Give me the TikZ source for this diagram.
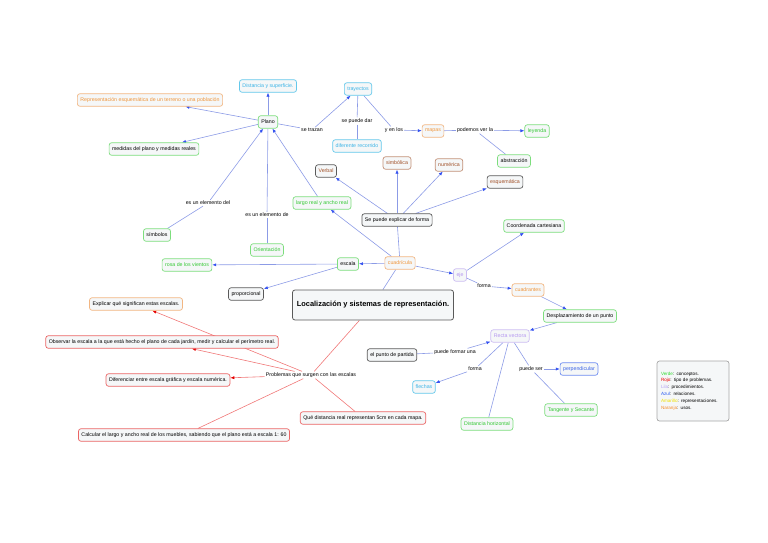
\documentclass[tikz,border=0pt]{standalone}
\usepackage{fontspec}
\setmainfont{Liberation Sans}
\usetikzlibrary{arrows.meta}
\pgfdeclarelayer{bg}
\pgfsetlayers{bg,main}
\definecolor{nfill}{RGB}{245,247,248}
\definecolor{cgreenB}{RGB}{125,222,125}
\definecolor{cgreenT}{RGB}{50,200,50}
\definecolor{ccyanB}{RGB}{100,200,235}
\definecolor{ccyanT}{RGB}{60,180,230}
\definecolor{corangeB}{RGB}{242,182,130}
\definecolor{corangeT}{RGB}{240,150,60}
\definecolor{credB}{RGB}{235,100,100}
\definecolor{cdarkB}{RGB}{90,90,90}
\definecolor{cbrownT}{RGB}{160,80,40}
\definecolor{cbrownB}{RGB}{195,145,120}
\definecolor{clavB}{RGB}{205,190,242}
\definecolor{clavT}{RGB}{180,150,240}
\definecolor{cblueB}{RGB}{110,140,240}
\definecolor{cblueT}{RGB}{60,100,230}
\definecolor{cedge}{RGB}{140,155,230}
\definecolor{carrow}{RGB}{50,80,240}
\definecolor{credge}{RGB}{240,120,120}
\definecolor{credarrow}{RGB}{230,0,0}
\definecolor{lgGreen}{RGB}{50,220,50}
\definecolor{lgRed}{RGB}{235,0,0}
\definecolor{lgLila}{RGB}{180,160,245}
\definecolor{lgBlue}{RGB}{40,90,240}
\definecolor{lgYellow}{RGB}{240,225,0}
\definecolor{lgOrange}{RGB}{245,140,40}
\begin{document}
\begin{tikzpicture}[x=1pt,y=-1pt,
  every node/.style={font=\fontsize{5.25}{6}\selectfont},
  cbox/.style={draw, rounded corners=2.5pt, fill=nfill, line width=0.7pt, inner xsep=3pt, inner ysep=1.5pt, minimum height=12.5pt},
  gr/.style={cbox, draw=cgreenB, text=cgreenT},
  grk/.style={cbox, draw=cgreenB, text=black},
  cy/.style={cbox, draw=ccyanB, text=ccyanT},
  orb/.style={cbox, draw=corangeB, text=corangeT},
  ork/.style={cbox, draw=corangeB, text=black},
  rd/.style={cbox, draw=credB, text=black},
  dk/.style={cbox, draw=cdarkB, text=black},
  dkbr/.style={cbox, draw=cdarkB, text=cbrownT},
  brbr/.style={cbox, draw=cbrownB, text=cbrownT},
  lav/.style={cbox, draw=clavB, text=clavT},
  blu/.style={cbox, draw=cblueB, text=cblueT},
  lab/.style={inner sep=1pt, text=black},
  ttl/.style={draw=cdarkB, rounded corners=2.5pt, fill=nfill, line width=0.8pt, minimum width=161pt, minimum height=30pt, font=\fontsize{7.4}{8}\selectfont\bfseries},
  ln/.style={draw=cedge, line width=0.6pt},
  arr/.style={ln, -{Latex[length=4pt,width=3.2pt,color=carrow]}},
  rln/.style={draw=credge, line width=0.6pt},
  rarr/.style={rln, -{Latex[length=4pt,width=3.2pt,color=credarrow]}}
]
\useasboundingbox (0,0) rectangle (768,543);
% nodes
\node[cy] (dist) at (268,86) {Distancia y superficie.};
\node[orb] (repr) at (150,100) {Representación esquemática de un terreno o una población};
\node[grk] (plano) at (268,122) {Plano};
\node[lab] (trazan) at (312,130) {se trazan};
\node[cy] (tray) at (358,89) {trayectos};
\node[lab] (puededar) at (357,121) {se puede dar};
\node[cy] (difrec) at (357,146) {diferente recorrido};
\node[lab] (enlos) at (394,130) {y en los};
\node[orb] (mapas) at (433,131) {mapas};
\node[lab] (podemos) at (475,130) {podemos ver la};
\node[gr] (leyenda) at (537,131) {leyenda};
\node[grk] (abstr) at (514,161) {abstracción};
\node[grk] (medidas) at (154,149) {medidas del plano y medidas reales};
\node[dkbr] (verbal) at (326,171) {Verbal};
\node[brbr] (simb) at (397,163) {simbólica};
\node[brbr] (num) at (449,165) {numérica};
\node[dkbr] (esq) at (505,182) {esquemática};
\node[gr] (largo) at (322,203) {largo real y ancho real};
\node[dk] (explicar) at (397,220) {Se puede explicar de forma};
\node[lab] (elemdel) at (208,203) {es un elemento del};
\node[lab] (elemde) at (267,215) {es un elemento de};
\node[grk] (simbolos) at (157,235) {símbolos};
\node[gr] (orient) at (267,250) {Orientación};
\node[grk] (escala) at (348,264) {escala};
\node[orb] (cuad) at (400,263) {cuadrícula};
\node[gr] (rosa) at (187,265) {rosa de los vientos};
\node[dk] (prop) at (246,294) {proporcional};
\node[ttl] (loc) at (373,305) {Localización y sistemas de representación.};
\node[grk] (coord) at (534,226) {Coordenada cartesiana};
\node[lav] (eje) at (460,275) {eje};
\node[lab] (forma1) at (484,286) {forma};
\node[orb] (cuadr) at (528,290) {cuadrantes};
\node[grk] (despl) at (580,316) {Desplazamiento de un punto};
\node[ork] (explic) at (136,304) {Explicar qué significan estas escalas.};
\node[rd] (obs) at (162,342) {Observar la escala a la que está hecho el plano de cada jardín, medir y calcular el perímetro real.};
\node[rd] (dif) at (168,380) {Diferenciar entre escala gráfica y escala numérica.};
\node[lab] (prob) at (311,375) {Problemas que surgen con las escalas};
\node[rd] (calc) at (184,435) {Calcular el largo y ancho real de los muebles, sabiendo que el plano está a escala 1: 60};
\node[rd] (que) at (363,418) {Qué distancia real representan 5cm en cada mapa.};
\node[lav] (recta) at (510,336) {Recta vectora};
\node[dk] (punto) at (392,355) {el punto de partida};
\node[lab] (formar) at (455,352) {puede formar una};
\node[lab] (forma2) at (475,369) {forma};
\node[lab] (puedeser) at (531,369) {puede ser};
\node[blu] (perp) at (579,369) {perpendicular};
\node[cy] (flechas) at (424,387) {flechas};
\node[gr] (tang) at (571,410) {Tangente y Secante};
\node[gr] (disth) at (487,424) {Distancia horizontal};
% legend
\node[draw=gray!70, rounded corners=2.5pt, fill=nfill, line width=0.7pt, minimum width=72pt, minimum height=60pt, align=left, text width=64pt, inner xsep=4pt, font=\fontsize{4.6}{6.8}\selectfont] (legend) at (693,391)
{\textcolor{lgGreen}{Verde}: conceptos.\\
\textcolor{lgRed}{Rojo}: tipo de problemas.\\
\textcolor{lgLila}{Lila}: procedimientos.\\
\textcolor{lgBlue}{Azul}: relaciones.\\
\textcolor{lgYellow}{Amarillo}: representaciones.\\
\textcolor{lgOrange}{Naranja}: usos.};
% edges
\begin{pgfonlayer}{bg}
\path[arr] (plano) -- (dist);
\path[arr] (plano) -- (repr);
\path[arr] (plano) -- (medidas);
\path[ln] (plano) -- (trazan);
\path[arr] (trazan) -- (tray);
\path[ln] (tray) -- (puededar);
\path[ln] (puededar) -- (difrec);
\path[ln] (tray) -- (enlos);
\path[arr] (enlos) -- (mapas);
\path[ln] (mapas) -- (podemos);
\path[arr] (podemos) -- (leyenda);
\path[ln] (podemos) -- (abstr);
\path[ln] (simbolos) -- (elemdel);
\path[arr] (elemdel) -- (plano);
\path[ln] (orient) -- (elemde);
\path[ln] (elemde) -- (plano);
\path[arr] (largo) -- (plano);
\path[arr] (cuad) -- (largo);
\path[ln] (cuad) -- (explicar);
\path[arr] (explicar) -- (verbal);
\path[arr] (explicar) -- (simb);
\path[arr] (explicar) -- (num);
\path[arr] (explicar) -- (esq);
\path[arr] (cuad) -- (escala);
\path[arr] (escala) -- (rosa);
\path[arr] (escala) -- (prop);
\path[arr] (cuad) -- (eje);
\path[arr] (eje) -- (coord);
\path[ln] (eje) -- (forma1);
\path[arr] (forma1) -- (cuadr);
\path[arr] (cuadr) -- (despl);
\path[arr] (despl) -- (recta);
\path[ln] (loc) -- (cuad);
\path[ln] (punto) -- (formar);
\path[arr] (formar) -- (recta);
\path[ln] (recta) -- (forma2);
\path[arr] (forma2) -- (flechas);
\path[ln] (recta) -- (puedeser);
\path[arr] (puedeser) -- (perp);
\path[ln] (puedeser) -- (tang);
\path[ln] (recta) -- (disth);
\path[rln] (loc) -- (prob);
\path[rarr] (prob) -- (explic);
\path[rarr] (prob) -- (obs);
\path[rarr] (prob) -- (dif);
\path[rln] (prob) -- (calc);
\path[rln] (prob) -- (que);
\end{pgfonlayer}
\end{tikzpicture}
\end{document}
